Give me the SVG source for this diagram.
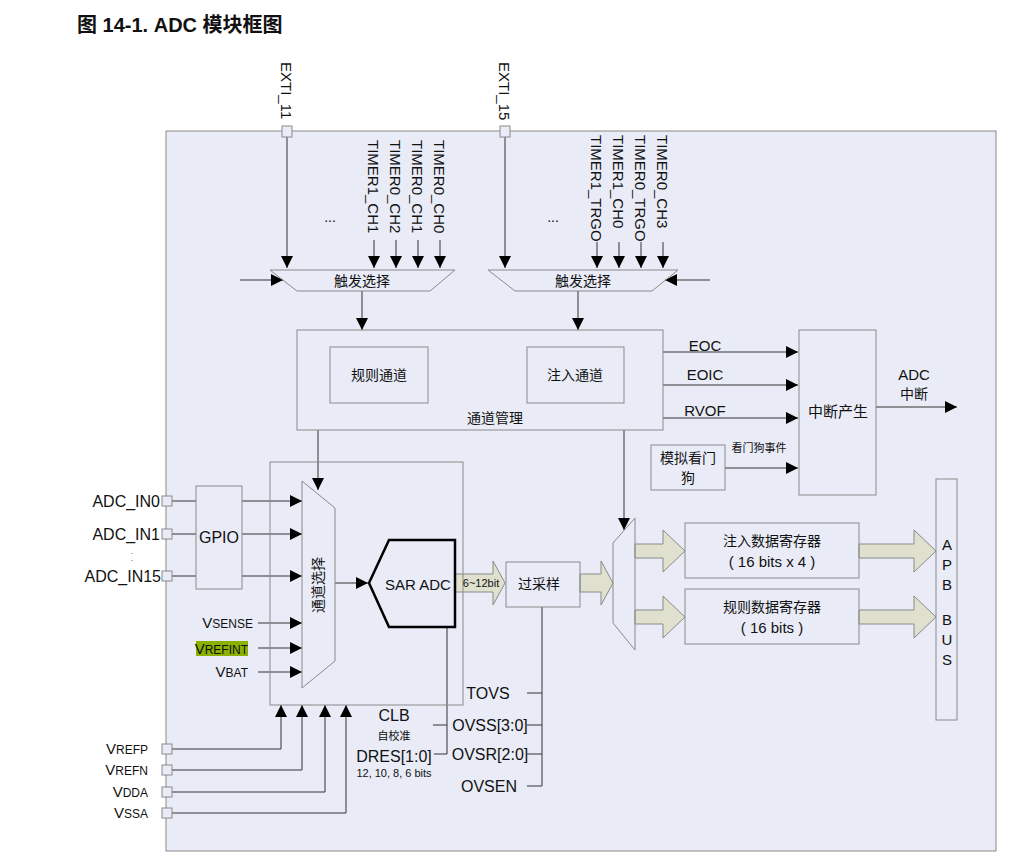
<svg xmlns="http://www.w3.org/2000/svg" width="1012" height="853" viewBox="0 0 1012 853">
<style>
text{font-family:"Liberation Sans","Noto Sans CJK SC",sans-serif;fill:#111}
.b{fill:none;stroke:#8a8a8a;stroke-width:1}
.l{fill:none;stroke:#333;stroke-width:1}
.la{fill:none;stroke:#333;stroke-width:1;marker-end:url(#ah)}
.ba{fill:#dfe0cd;stroke:#8a8a8a;stroke-width:1}
.t13{font-size:14px}
.t14{font-size:15px}
.t16{font-size:16px}
.sq{fill:#e9ecf7;stroke:#8a8a8a}
</style>
<defs>
<marker id="ah" viewBox="0 0 10 10" refX="10" refY="5" markerWidth="12" markerHeight="12" markerUnits="userSpaceOnUse" orient="auto"><path d="M0,0L10,5L0,10z" fill="#000"/></marker>
</defs>
<rect width="1012" height="853" fill="#fff"/>
<text x="77" y="32" font-size="20" font-weight="bold">图 14-1. ADC 模块框图</text>
<rect id="main" x="166" y="131" width="830" height="720" fill="#e9ecf7" stroke="#8a8a8a"/>

<g id="connectors">
<path class="la" d="M287,137V268"/><path class="la" d="M505,137V268"/>
<path class="la" d="M374,240V268"/><path class="la" d="M396,240V268"/><path class="la" d="M418,240V268"/><path class="la" d="M440,240V268"/>
<path class="la" d="M597,242V268"/><path class="la" d="M619,242V268"/><path class="la" d="M641,242V268"/><path class="la" d="M663,242V268"/>
<path class="la" d="M240,280H283"/><path class="la" d="M710,280H665"/>
<path class="la" d="M362,291V330"/><path class="la" d="M578,291V330"/>
<path class="la" d="M663,352H798"/><path class="la" d="M663,385H798"/><path class="la" d="M663,418H798"/>
<path class="la" d="M725,468H798"/><path class="la" d="M876,407H957"/>
<path class="la" d="M624,430V530"/><path class="la" d="M318,430V490"/>
<path class="l" d="M172,501H196M172,534H196M172,576H196"/>
<path class="la" d="M242,501H302"/><path class="la" d="M242,534H302"/><path class="la" d="M242,576H302"/>
<path class="la" d="M258,623H302"/><path class="la" d="M258,648H302"/><path class="la" d="M258,672H302"/>
<path class="la" d="M335,583H368"/>
<path class="la" d="M172,749H281V705"/><path class="la" d="M172,770H302V705"/><path class="la" d="M172,792H325V705"/><path class="la" d="M172,813H346V705"/>
<path class="l" d="M542,607V786M527,693H542M527,725H542M527,754H542M527,786H542"/>
<path class="l" d="M447,627V754M433,725H447M434,754H447"/>
<path class="ba" d="M455,574H493V561L505,583L493,605V592H455z"/>
<path class="ba" d="M580,574H601V561L613,583L601,605V592H580z"/>
<path class="ba" d="M635,544H663V530L685,551L663,572V558H635z"/>
<path class="ba" d="M635,610H663V596L685,617L663,638V624H635z"/>
<path class="ba" d="M859,544H914V530L936,551L914,572V558H859z"/>
<path class="ba" d="M859,610H914V596L936,617L914,638V624H859z"/>
</g>

<g id="ext">
<text transform="translate(281,62) rotate(90)" class="t14">EXTI_11</text>
<rect class="sq" x="282" y="126" width="10" height="11"/>
<text transform="translate(499,62) rotate(90)" class="t14">EXTI_15</text>
<rect class="sq" x="500" y="126" width="10" height="11"/>
<text transform="translate(368,140) rotate(90)" class="t14">TIMER1_CH1</text>
<text transform="translate(390,140) rotate(90)" class="t14">TIMER0_CH2</text>
<text transform="translate(412,140) rotate(90)" class="t14">TIMER0_CH1</text>
<text transform="translate(434,140) rotate(90)" class="t14">TIMER0_CH0</text>
<text transform="translate(591,135) rotate(90)" class="t14">TIMER1_TRGO</text>
<text transform="translate(613,135) rotate(90)" class="t14">TIMER1_CH0</text>
<text transform="translate(635,135) rotate(90)" class="t14">TIMER0_TRGO</text>
<text transform="translate(657,135) rotate(90)" class="t14">TIMER0_CH3</text>
<text x="330" y="222" class="t13" text-anchor="middle">...</text>
<text x="553" y="222" class="t13" text-anchor="middle">...</text>
</g>

<g id="trig1"><path class="b" d="M270,270H455L430,291H297z"/><text x="362" y="286" class="t13" text-anchor="middle">触发选择</text></g>
<g id="trig2"><path class="b" d="M488,270H678L652,291H515z"/><text x="583" y="286" class="t13" text-anchor="middle">触发选择</text></g>

<g id="chmgr"><rect class="b" x="297" y="330" width="366" height="100"/><text x="495" y="423" class="t13" text-anchor="middle">通道管理</text></g>
<g id="reg"><rect class="b" x="330" y="347" width="98" height="56"/><text x="379" y="380" class="t13" text-anchor="middle">规则通道</text></g>
<g id="inj"><rect class="b" x="527" y="347" width="97" height="56"/><text x="575" y="380" class="t13" text-anchor="middle">注入通道</text></g>
<text x="705" y="351" class="t14" text-anchor="middle">EOC</text>
<text x="705" y="380" class="t14" text-anchor="middle">EOIC</text>
<text x="705" y="416" class="t14" text-anchor="middle">RVOF</text>
<g id="irq"><rect class="b" x="799" y="330" width="77" height="165"/><text x="838" y="417" class="t14" text-anchor="middle">中断产生</text></g>
<text x="914" y="380" class="t14" text-anchor="middle">ADC</text>
<text x="914" y="399" class="t13" text-anchor="middle">中断</text>
<g id="wd"><rect class="b" x="651" y="445" width="74" height="45"/><text x="688" y="463" class="t13" text-anchor="middle">模拟看门</text><text x="688" y="483" class="t13" text-anchor="middle">狗</text></g>
<text x="759" y="452" font-size="11" text-anchor="middle">看门狗事件</text>

<g id="mux2"><path class="b" d="M613,543L635,518V650L613,623z"/></g>
<g id="injdata"><rect class="b" x="685" y="523" width="174" height="55"/><text x="772" y="546" class="t13" text-anchor="middle">注入数据寄存器</text><text x="772" y="567" class="t14" text-anchor="middle">( 16 bits x 4 )</text></g>
<g id="regdata"><rect class="b" x="685" y="589" width="174" height="55"/><text x="772" y="612" class="t13" text-anchor="middle">规则数据寄存器</text><text x="772" y="633" class="t14" text-anchor="middle">( 16 bits )</text></g>
<g id="apb"><rect class="b" x="936" y="479" width="21" height="241"/>
<text x="947" class="t14" text-anchor="middle"><tspan x="947" y="550">A</tspan><tspan x="947" y="570">P</tspan><tspan x="947" y="590">B</tspan><tspan x="947" y="625">B</tspan><tspan x="947" y="645">U</tspan><tspan x="947" y="665">S</tspan></text></g>

<g id="chbox"><rect class="b" x="270" y="462" width="193" height="243"/></g>
<g id="mux1"><path class="b" d="M302,481L335,508V661L302,688z"/><text transform="translate(323,585) rotate(-90)" class="t13" text-anchor="middle">通道选择</text></g>
<g id="gpio"><rect class="b" x="196" y="486" width="46" height="103"/><text x="219" y="543" class="t16" text-anchor="middle">GPIO</text></g>
<g id="inputs">
<rect class="sq" x="162" y="496" width="10" height="10"/><rect class="sq" x="162" y="529" width="10" height="10"/><rect class="sq" x="162" y="571" width="10" height="10"/>
<text x="160" y="507" class="t16" text-anchor="end">ADC_IN0</text>
<text x="160" y="540" class="t16" text-anchor="end">ADC_IN1</text>
<text x="132" y="554" font-size="8" text-anchor="middle">.</text><text x="132" y="561" font-size="8" text-anchor="middle">.</text>
<text x="161" y="582" class="t16" text-anchor="end">ADC_IN15</text>
<text x="253" y="628" text-anchor="end"><tspan font-size="15">V</tspan><tspan font-size="12">SENSE</tspan></text>
<rect x="196" y="641" width="52" height="15" fill="#8ab000"/>
<text x="248" y="654" text-anchor="end"><tspan font-size="15">V</tspan><tspan font-size="12">REFINT</tspan></text>
<text x="248" y="677" text-anchor="end"><tspan font-size="15">V</tspan><tspan font-size="12">BAT</tspan></text>
<rect class="sq" x="162" y="744" width="10" height="10"/><rect class="sq" x="162" y="765" width="10" height="10"/><rect class="sq" x="162" y="787" width="10" height="10"/><rect class="sq" x="162" y="808" width="10" height="10"/>
<text x="148" y="754" text-anchor="end"><tspan font-size="15">V</tspan><tspan font-size="12">REFP</tspan></text>
<text x="148" y="775" text-anchor="end"><tspan font-size="15">V</tspan><tspan font-size="12">REFN</tspan></text>
<text x="148" y="797" text-anchor="end"><tspan font-size="15">V</tspan><tspan font-size="12">DDA</tspan></text>
<text x="148" y="818" text-anchor="end"><tspan font-size="15">V</tspan><tspan font-size="12">SSA</tspan></text>
</g>
<g id="sar"><path d="M369,583L389,540H455V627H389z" fill="#e9ecf7" stroke="#000" stroke-width="2.5"/><text x="418" y="590" class="t14" text-anchor="middle">SAR ADC</text></g>
<text x="481" y="587" font-size="11" text-anchor="middle">6~12bit</text>
<g id="ovs"><rect class="b" x="506" y="562" width="74" height="45"/><text x="539" y="589" class="t13" text-anchor="middle">过采样</text></g>
<text x="488" y="699" class="t16" text-anchor="middle">TOVS</text>
<text x="490" y="731" class="t16" text-anchor="middle">OVSS[3:0]</text>
<text x="490" y="760" class="t16" text-anchor="middle">OVSR[2:0]</text>
<text x="489" y="792" class="t16" text-anchor="middle">OVSEN</text>
<text x="394" y="721" class="t16" text-anchor="middle">CLB</text>
<text x="394" y="740" font-size="11" fill="#555" text-anchor="middle">自校准</text>
<text x="394" y="762" class="t16" text-anchor="middle">DRES[1:0]</text>
<text x="394" y="777" font-size="11" text-anchor="middle">12, 10, 8, 6 bits</text>
</svg>
